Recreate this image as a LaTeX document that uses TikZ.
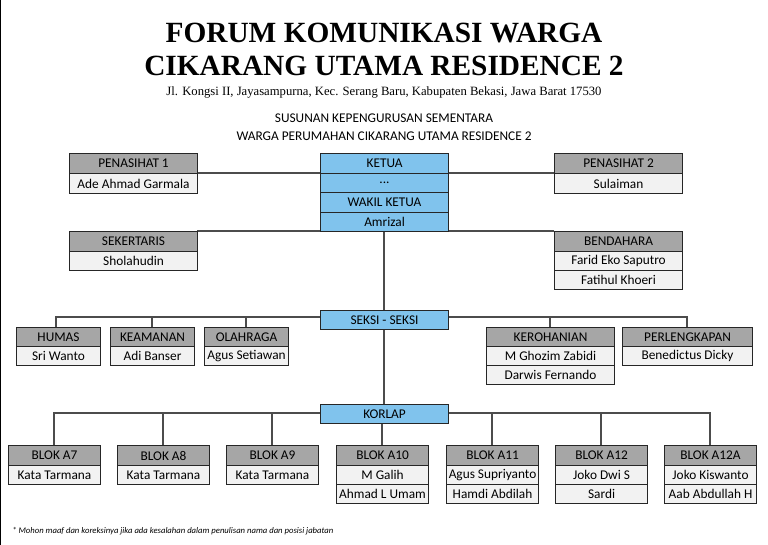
\documentclass[tikz,border=0pt]{standalone}
\usepackage{fontspec}
\setmainfont{Carlito}
\newfontfamily\titlefont{Liberation Serif}
\begin{document}
\begin{tikzpicture}[x=0.75pt,y=-0.75pt,
 hd/.style={draw=black!85,line width=0.8pt,fill=black!35,inner sep=0pt,font=\fontsize{10}{12}\selectfont},
 rw/.style={draw=black!85,line width=0.8pt,fill=black!5,inner sep=0pt,font=\fontsize{10}{12}\selectfont},
 bl/.style={draw=black!85,line width=0.8pt,fill=cyan!45!white!90!blue,inner sep=0pt,font=\fontsize{10}{12}\selectfont},
 ln/.style={draw=black!70,line width=1pt}]
\useasboundingbox (0,0) rectangle (768,545);
\fill[white] (0,0) rectangle (768,545);
\draw[line width=1pt] (0.5,0)--(0.5,545);
\newcommand\cell[6]{\node[#1,minimum width=#4*0.75pt,minimum height=#5*0.75pt,anchor=north west] (#2) at (#3) {#6};}
\node[font=\titlefont\bfseries\fontsize{22}{24}\selectfont] (t1) at (384,33) {FORUM KOMUNIKASI WARGA};
\node[font=\titlefont\bfseries\fontsize{22}{24}\selectfont] (t2) at (384,66) {CIKARANG UTAMA RESIDENCE 2};
\node[font=\titlefont\fontsize{9.5}{11}\selectfont] (t3) at (384,92) {Jl. Kongsi II, Jayasampurna, Kec. Serang Baru, Kabupaten Bekasi, Jawa Barat 17530};
\node[font=\fontsize{10}{12}\selectfont] (t4) at (384,118) {SUSUNAN KEPENGURUSAN SEMENTARA};
\node[font=\fontsize{10}{12}\selectfont] (t5) at (384,136) {WARGA PERUMAHAN CIKARANG UTAMA RESIDENCE 2};
% lines
\draw[ln] (197,173)--(320,173);
\draw[ln] (448,173)--(554,173);
\draw[ln] (197,231)--(554,231);
\draw[ln] (384,231)--(384,404);
\draw[ln] (56,327)--(56,317)--(687,317)--(687,327);
\draw[ln] (152,317)--(152,327); \draw[ln] (246,317)--(246,327); \draw[ln] (550,317)--(550,327);
\draw[ln] (54,445)--(54,413)--(710,413)--(710,445);
\foreach \x in {163,272,382,492,601} \draw[ln] (\x,413)--(\x,445);
% top
\cell{hd}{p1}{69,153}{128}{20}{PENASIHAT 1}
\cell{rw}{p1a}{69,173}{128}{20}{Ade Ahmad Garmala}
\cell{bl}{k1}{320,153}{128}{20}{KETUA}
\cell{bl}{k2}{320,173}{128}{19}{...}
\cell{bl}{k3}{320,192}{128}{20}{WAKIL KETUA}
\cell{bl}{k4}{320,212}{128}{19}{Amrizal}
\cell{hd}{p2}{554,153}{128}{20}{PENASIHAT 2}
\cell{rw}{p2a}{554,173}{128}{20}{Sulaiman}
\cell{hd}{s1}{69,231}{128}{20}{SEKERTARIS}
\cell{rw}{s1a}{69,251}{128}{19}{Sholahudin}
\cell{hd}{b1}{554,231}{128}{20}{BENDAHARA}
\cell{rw}{b1a}{554,251}{128}{19}{Farid Eko Saputro}
\cell{rw}{b1b}{554,270}{128}{19}{Fatihul Khoeri}
\cell{bl}{sk}{320,310}{128}{19}{SEKSI - SEKSI}
\cell{hd}{h1}{16,327}{84}{19}{HUMAS}
\cell{rw}{h1a}{16,346}{84}{19}{Sri Wanto}
\cell{hd}{h2}{110,327}{84}{19}{KEAMANAN}
\cell{rw}{h2a}{110,346}{84}{19}{Adi Banser}
\cell{hd}{h3}{204,327}{84}{19}{OLAHRAGA}
\cell{rw}{h3a}{204,346}{84}{19}{Agus Setiawan}
\cell{hd}{h4}{486,327}{128}{19}{KEROHANIAN}
\cell{rw}{h4a}{486,346}{128}{19}{M Ghozim Zabidi}
\cell{rw}{h4b}{486,365}{128}{19}{Darwis Fernando}
\cell{hd}{h5}{622,327}{130}{19}{PERLENGKAPAN}
\cell{rw}{h5a}{622,346}{130}{19}{Benedictus Dicky}
\cell{bl}{ko}{320,404}{128}{19}{KORLAP}
\cell{hd}{a7}{8,445}{92}{20}{BLOK A7}
\cell{rw}{a7a}{8,465}{92}{19}{Kata Tarmana}
\cell{hd}{a8}{117,445}{92}{20}{BLOK A8}
\cell{rw}{a8a}{117,465}{92}{19}{Kata Tarmana}
\cell{hd}{a9}{226,445}{92}{20}{BLOK A9}
\cell{rw}{a9a}{226,465}{92}{19}{Kata Tarmana}
\cell{hd}{a10}{336,445}{92}{20}{BLOK A10}
\cell{rw}{a10a}{336,465}{92}{19}{M Galih}
\cell{rw}{a10b}{336,484}{92}{19}{Ahmad L Umam}
\cell{hd}{a11}{446,445}{92}{20}{BLOK A11}
\cell{rw}{a11a}{446,465}{92}{19}{Agus Supriyanto}
\cell{rw}{a11b}{446,484}{92}{19}{Hamdi Abdilah}
\cell{hd}{a12}{555,445}{92}{20}{BLOK A12}
\cell{rw}{a12a}{555,465}{92}{19}{Joko Dwi S}
\cell{rw}{a12b}{555,484}{92}{19}{Sardi}
\cell{hd}{a13}{664,445}{92}{20}{BLOK A12A}
\cell{rw}{a13a}{664,465}{92}{19}{Joko Kiswanto}
\cell{rw}{a13b}{664,484}{92}{19}{Aab Abdullah H}
\node[anchor=west,font=\itshape\fontsize{6.5}{8}\selectfont,inner sep=0pt] (fn) at (12,531) {* Mohon maaf dan koreksinya jika ada kesalahan dalam penulisan nama dan posisi jabatan};
\end{tikzpicture}
\end{document}
